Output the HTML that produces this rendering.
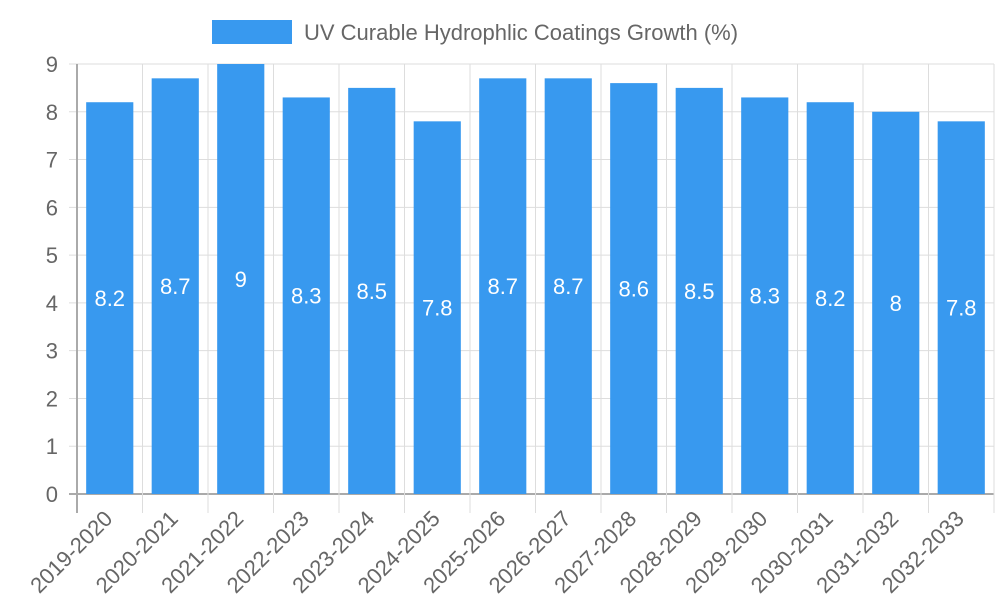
<!DOCTYPE html>
<html><head><meta charset="utf-8"><style>
body{margin:0;background:#fff;}
svg text{font-family:"Liberation Sans",sans-serif;}
</style></head><body>
<svg id="chart" width="1000" height="600" xmlns="http://www.w3.org/2000/svg">
<g>
<rect x="212" y="20" width="80" height="24" fill="#3899ef"/>
<text x="304" y="40" font-size="22" fill="#666">UV Curable Hydrophlic Coatings Growth (%)</text>
</g>
<g id="grid"></g><g id="bars"></g><g id="axes"></g>
</svg>
<script>
const categories=["2019-2020","2020-2021","2021-2022","2022-2023","2023-2024","2024-2025","2025-2026","2026-2027","2027-2028","2028-2029","2029-2030","2030-2031","2031-2032","2032-2033"];
const values=[8.2,8.7,9,8.3,8.5,7.8,8.7,8.7,8.6,8.5,8.3,8.2,8,7.8];
const yTicks=[0,1,2,3,4,5,6,7,8,9];
const NS="http://www.w3.org/2000/svg";
const x0=77,x1=994,y0=494,y1=64,yMax=9;
const bw=(x1-x0)/categories.length;
const y=v=>y0-(y0-y1)*v/yMax;
const xc=i=>x0+bw*(i+0.5);
function mk(t,a,p){const e=document.createElementNS(NS,t);for(const k in a)e.setAttribute(k,a[k]);p.appendChild(e);return e;}
const grid=document.getElementById('grid'),bars=document.getElementById('bars'),axes=document.getElementById('axes');
yTicks.forEach(t=>{
 const l=mk('line',{x1:69,x2:x1,y1:y(t),y2:y(t),stroke:t===0?'#aaa':'#ddd','stroke-width':t===0?2:1},grid);
 
 
 const tx=mk('text',{x:58,y:y(t)+8,'text-anchor':'end','font-size':22,fill:'#666'},axes);
 tx.textContent=t;
 
 
});
for(let i=0;i<=categories.length;i++){
 const gx=x0+bw*i;
 const l=mk('line',{x1:gx,x2:gx,y1:y1,y2:513,stroke:i===0?'#aaa':'#ddd','stroke-width':i===0?2:1},grid);
 
 
}
categories.forEach((c,i)=>{
 const w=bw*0.72,v=values[i];
 const r=mk('rect',{x:xc(i)-w/2,y:y(v),width:w,height:y0-y(v),fill:'#3899ef'},bars);
 
 
 const lb=mk('text',{x:xc(i),y:(y(v)+y0)/2+8,'text-anchor':'middle','font-size':22,fill:'#fff'},bars);
 lb.textContent=v;
 
 
 const tx=mk('text',{transform:`translate(${xc(i)+4},${520}) rotate(-45)`,'text-anchor':'end','font-size':22,fill:'#666'},axes);
 tx.textContent=c;
 
 
});
</script>
</body></html>
